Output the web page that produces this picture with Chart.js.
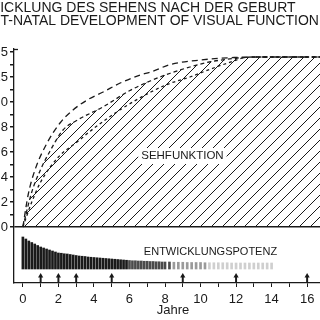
<!DOCTYPE html>
<html>
<head>
<meta charset="utf-8">
<script src="https://cdn.jsdelivr.net/npm/chart.js@4.4.1/dist/chart.umd.min.js"></script>
<style>
  html, body { margin: 0; padding: 0; background: #fff; overflow: hidden; width: 320px; height: 320px; }
  #wrap { position: absolute; left: -46px; top: 0; width: 400px; height: 320px; }
</style>
</head>
<body>
<div id="wrap"><canvas id="chart"></canvas></div>
<script>
// Entwicklung des Sehens nach der Geburt
const titleLines = ['ENTWICKLUNG DES SEHENS NACH DER GEBURT', 'POST-NATAL DEVELOPMENT OF VISUAL FUNCTION'];
const yTickLabels = ['0', '0,2', '0,4', '0,6', '0,8', '1,0', '1,25', '1,5'];

// Sehfunktion, three dashed curves (years / scale steps)
const outerYears = [0, 0.3, 0.68, 1.36, 2.09, 2.82, 3.62, 4.52, 5.48, 6.61, 7.2, 8.3, 10, 11.9, 13.8, 17.4];
const outerValues = [0, 1.3, 2.28, 3.36, 4.16, 4.68, 5.08, 5.4, 5.76, 6.08, 6.2, 6.5, 6.68, 6.78, 6.8, 6.8];
const middleYears = [0, 0.5, 1, 1.5, 2.26, 3, 4.5, 6, 7.2, 8.3, 9.4, 10.5, 12, 13, 17.4];
const middleValues = [0, 1.4, 2.3, 3.0, 3.88, 4.25, 4.8, 5.45, 5.85, 6.15, 6.4, 6.6, 6.75, 6.8, 6.8];
const innerYears = [0, 0.5, 1, 2, 3.05, 4, 5.5, 7.2, 8.3, 9.4, 10.5, 11.5, 12.8, 17.4];
const innerValues = [0, 1.0, 1.8, 2.8, 3.4, 3.95, 4.7, 5.4, 5.75, 6.0, 6.3, 6.55, 6.8, 6.8];

// Entwicklungspotenz bars (age in months, bar height in scale steps)
const potentialMonths = [0, 2, 4, 6, 8, 10, 12, 14, 16, 18, 20, 22, 24,
  26, 28, 30, 32, 34, 36, 38, 40, 42, 44, 46, 48,
  50, 52, 54, 56, 58, 60, 62, 64, 66, 68, 70, 72,
  74, 76, 78, 80, 82, 84, 86, 88, 90, 92, 94, 96,
  99, 102, 105, 108, 111, 114, 117, 120, 123, 126, 129, 132,
  135, 138, 141, 144, 147, 150, 153, 156, 159, 162, 165, 168];
const potentialValues = [1.28, 1.2, 1.12, 1.06, 1.0, 0.94, 0.88, 0.84, 0.8, 0.76, 0.72, 0.68, 0.64,
  0.63, 0.61, 0.6, 0.58, 0.56, 0.54, 0.52, 0.51, 0.5, 0.48, 0.47, 0.46,
  0.45, 0.44, 0.43, 0.42, 0.41, 0.40, 0.39, 0.38, 0.37, 0.36, 0.35, 0.34,
  0.33, 0.33, 0.32, 0.32, 0.31, 0.31, 0.3, 0.3, 0.29, 0.29, 0.28, 0.28,
  0.28, 0.27, 0.27, 0.27, 0.26, 0.26, 0.26, 0.26, 0.25, 0.25, 0.25, 0.25,
  0.25, 0.25, 0.24, 0.24, 0.24, 0.24, 0.24, 0.24, 0.24, 0.24, 0.24, 0.24];
const potentialBase = -1.68;

// arrows under the bars
const arrowYears = [1, 2, 3, 5, 9, 12, 16];

const INK = '#1a1a1a';
const NONE = 'rgba(0,0,0,0)';
const FONT = "'Liberation Sans', Arial, sans-serif";
Chart.defaults.font.family = FONT;
Chart.defaults.color = INK;

const canvas = document.getElementById('chart');
const ctx = canvas.getContext('2d');

// diagonal hatching for the Sehfunktion area
const tile = document.createElement('canvas');
tile.width = 11; tile.height = 11;
const tg = tile.getContext('2d');
tg.strokeStyle = INK; tg.lineWidth = 1;
tg.beginPath();
tg.moveTo(-1, 12); tg.lineTo(12, -1);
tg.moveTo(-1, 1); tg.lineTo(1, -1);
tg.moveTo(10, 12); tg.lineTo(12, 10);
tg.stroke();
const hatch = ctx.createPattern(tile, 'repeat');

const toPoints = (xs, ys) => xs.map((x, i) => ({ x: x, y: ys[i] }));

const curveStyle = {
    type: 'line', borderColor: INK, borderWidth: 1.3, pointRadius: 0,
    cubicInterpolationMode: 'monotone', fill: false
};

// two title lines, each placed on its own (the figure is cropped left and right)
const titlePlugin = {
    id: 'twoLineTitle',
    afterDraw(chart) {
        const c = chart.ctx;
        c.save();
        c.font = '14px ' + FONT;
        c.fillStyle = INK;
        c.textAlign = 'left';
        c.textBaseline = 'middle';
        c.fillText(titleLines[0], 5, 8);
        c.fillText(titleLines[1], 17, 21);
        c.restore();
    }
};

const labelsPlugin = {
    id: 'areaLabels',
    afterDatasetsDraw(chart) {
        const c = chart.ctx, xs = chart.scales.x, ys = chart.scales.y;
        c.save();
        c.textAlign = 'center';
        c.textBaseline = 'middle';
        c.font = '11.5px ' + FONT;
        let px = xs.getPixelForValue(8.98), py = ys.getPixelForValue(2.84);
        const w = c.measureText('SEHFUNKTION').width;
        c.fillStyle = '#fff';
        c.fillRect(px - w / 2 - 3, py - 8, w + 6, 16);
        c.fillStyle = INK;
        c.fillText('SEHFUNKTION', px, py);
        c.font = '11px ' + FONT;
        px = xs.getPixelForValue(10.56); py = ys.getPixelForValue(-1.0);
        c.fillText('ENTWICKLUNGSPOTENZ', px, py);
        // small cap at the top of the y axis
        c.strokeStyle = INK; c.lineWidth = 1.3;
        c.beginPath();
        c.moveTo(xs.left, chart.chartArea.top + 0.5);
        c.lineTo(xs.left + 4, chart.chartArea.top + 0.5);
        c.stroke();
        c.restore();
    }
};

new Chart(ctx, {
    type: 'line',
    data: {
        datasets: [
            Object.assign({}, curveStyle, { data: toPoints(outerYears, outerValues), borderDash: [6, 4] }),
            Object.assign({}, curveStyle, { data: toPoints(middleYears, middleValues), borderDash: [4, 3],
                fill: { value: 0 }, backgroundColor: hatch }),
            Object.assign({}, curveStyle, { data: toPoints(innerYears, innerValues), borderDash: [3, 3] }),
            {
                type: 'bar',
                data: potentialMonths.map((m, i) => ({ x: m / 12, y: [potentialBase, potentialBase + potentialValues[i]] })),
                backgroundColor: c => {
                    const x = c.raw ? c.raw.x : 0;
                    if (x < 6) return INK;
                    if (x < 8.5) return '#4a4a4a';
                    if (x < 10.5) return '#9a9a9a';
                    return '#cfcfcf';
                },
                barThickness: 2, grouped: false, borderWidth: 0
            },
            {
                type: 'bar',
                data: arrowYears.map(x => ({ x: x, y: [-2.24, -1.96] })),
                backgroundColor: INK, barThickness: 1.3, grouped: false, borderWidth: 0
            },
            {
                type: 'scatter',
                data: arrowYears.map(x => ({ x: x, y: -1.96 })),
                pointStyle: 'triangle', pointRadius: 3, backgroundColor: INK, borderColor: INK, borderWidth: 0
            }
        ]
    },
    options: {
        responsive: true,
        maintainAspectRatio: false,
        animation: false,
        layout: { padding: { left: 13, right: 22, top: 49, bottom: 3 } },
        plugins: {
            legend: { display: false },
            tooltip: { enabled: false },
            title: { display: false }
        },
        scales: {
            x: {
                type: 'linear', min: -0.5, max: 17.4, offset: false,
                afterFit: s => { s.height = 34; },
                border: { color: INK, width: 1.3 },
                grid: { drawOnChartArea: false, offset: false, tickLength: 4,
                    color: c => (c.tick && c.tick.value >= 0 ? INK : NONE) },
                ticks: {
                    stepSize: 1, includeBounds: false, autoSkip: false, maxRotation: 0, padding: 6,
                    font: { size: 13, lineHeight: 1 },
                    callback: v => (v >= 0 && v % 2 === 0 ? String(v) : '')
                },
                title: { display: true, text: 'Jahre', font: { size: 13, lineHeight: 1 }, padding: 0 }
            },
            y: {
                min: -2.24, max: 7.12,
                afterFit: s => { s.width = 47; },
                border: { color: INK, width: 1.3 },
                grid: {
                    tickLength: 4, lineWidth: 1.5,
                    color: c => (c.tick && c.tick.value === 0 ? INK : NONE),
                    tickColor: c => (c.tick && c.tick.value >= 0 ? INK : NONE)
                },
                ticks: {
                    stepSize: 0.5, includeBounds: false, autoSkip: false, padding: 2,
                    font: { size: 13 },
                    callback: v => (Number.isInteger(v) && v >= 0 ? yTickLabels[v] : '')
                }
            }
        }
    },
    plugins: [labelsPlugin, titlePlugin]
});
</script>
</body>
</html>
